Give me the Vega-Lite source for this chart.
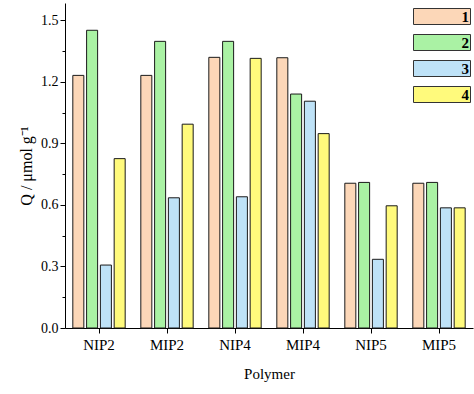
{
  "$schema": "https://vega.github.io/schema/vega-lite/v6.json",
  "width": 408,
  "height": 325,
  "autosize": {"type": "none"},
  "padding": {"left": 65, "top": 3, "right": 1, "bottom": 66},
  "background": "white",
  "config": {
    "view": {"stroke": null},
    "font": "Liberation Serif",
    "axis": {"domainColor": "black", "tickColor": "black", "labelColor": "black", "titleColor": "black", "grid": false, "labelFont": "Liberation Serif", "titleFont": "Liberation Serif", "titleFontWeight": "normal"}
  },
  "data": {
    "values": [
      {"polymer": "NIP2", "series": "1", "q": 1.232},
      {"polymer": "NIP2", "series": "2", "q": 1.452},
      {"polymer": "NIP2", "series": "3", "q": 0.307},
      {"polymer": "NIP2", "series": "4", "q": 0.826},
      {"polymer": "MIP2", "series": "1", "q": 1.232},
      {"polymer": "MIP2", "series": "2", "q": 1.398},
      {"polymer": "MIP2", "series": "3", "q": 0.635},
      {"polymer": "MIP2", "series": "4", "q": 0.994},
      {"polymer": "NIP4", "series": "1", "q": 1.32},
      {"polymer": "NIP4", "series": "2", "q": 1.398},
      {"polymer": "NIP4", "series": "3", "q": 0.64},
      {"polymer": "NIP4", "series": "4", "q": 1.315},
      {"polymer": "MIP4", "series": "1", "q": 1.318},
      {"polymer": "MIP4", "series": "2", "q": 1.141},
      {"polymer": "MIP4", "series": "3", "q": 1.106},
      {"polymer": "MIP4", "series": "4", "q": 0.948},
      {"polymer": "NIP5", "series": "1", "q": 0.706},
      {"polymer": "NIP5", "series": "2", "q": 0.71},
      {"polymer": "NIP5", "series": "3", "q": 0.335},
      {"polymer": "NIP5", "series": "4", "q": 0.596},
      {"polymer": "MIP5", "series": "1", "q": 0.706},
      {"polymer": "MIP5", "series": "2", "q": 0.71},
      {"polymer": "MIP5", "series": "3", "q": 0.586},
      {"polymer": "MIP5", "series": "4", "q": 0.586}
    ]
  },
  "mark": {"type": "bar", "stroke": "#1a1a1a", "strokeWidth": 1},
  "encoding": {
    "x": {
      "field": "polymer", "type": "nominal",
      "sort": ["NIP2", "MIP2", "NIP4", "MIP4", "NIP5", "MIP5"],
      "scale": {"paddingInner": 0.23, "paddingOuter": 0.115},
      "axis": {"title": "Polymer", "labelAngle": 0, "labelFontSize": 15, "titleFontSize": 15, "tickSize": 5, "labelPadding": 4, "titlePadding": 14}
    },
    "xOffset": {
      "field": "series", "type": "nominal",
      "scale": {"paddingInner": 0.2, "paddingOuter": 0}
    },
    "y": {
      "field": "q", "type": "quantitative",
      "scale": {"domain": [0, 1.585], "nice": false, "zero": true},
      "axis": {
        "title": "Q / μmol g⁻¹",
        "values": [0, 0.15, 0.3, 0.45, 0.6, 0.75, 0.9, 1.05, 1.2, 1.35, 1.5],
        "labelExpr": "(round(datum.value*100) % 30 == 0) ? format(datum.value, '.1f') : ''",
        "tickSize": {"condition": {"test": "round(datum.value*100) % 30 != 0", "value": 3}, "value": 5},
        "labelFontSize": 14,
        "titleFontSize": 16,
        "titlePadding": 6
      }
    },
    "color": {
      "field": "series", "type": "nominal",
      "scale": {"domain": ["1", "2", "3", "4"], "range": ["#FCD7B8", "#AAF2A4", "#BEE2F7", "#FFFA7C"]},
      "legend": {
        "title": null,
        "orient": "none",
        "legendX": 368.5,
        "legendY": 5,
        "symbolType": "M-3.5625,-1H3.5625V1H-3.5625Z",
        "symbolSize": 256,
        "symbolStrokeColor": "#333333",
        "symbolStrokeWidth": 1,
        "symbolOpacity": 1,
        "labelOffset": 11,
        "labelFontSize": 15,
        "labelFontWeight": "bold",
        "labelFont": "Liberation Serif",
        "labelColor": "black",
        "rowPadding": 5
      }
    }
  }
}
